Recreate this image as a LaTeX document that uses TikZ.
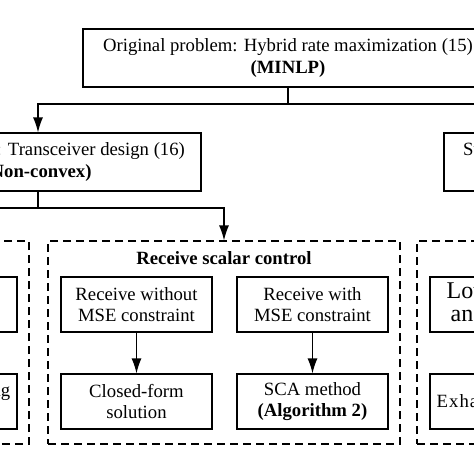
\documentclass[tikz,border=0pt]{standalone}
\usepackage{fontspec}
\setmainfont{Liberation Serif}
\usetikzlibrary{arrows.meta}
\begin{document}
\begin{tikzpicture}[x=1pt,y=-1pt,
  txt/.style={font=\fontsize{18.7}{21.5}\selectfont},
  box/.style={draw,line width=1.2pt,align=center,inner sep=0pt,txt},
  bigbox/.style={box,minimum height=58pt},
  smallbox/.style={box,minimum width=151pt,minimum height=55pt},
  group/.style={draw,line width=1.2pt,dash pattern=on 8pt off 5pt,minimum width=352pt,minimum height=203pt,inner sep=0pt},
  conn/.style={line width=1.2pt},
  arr/.style={conn,-{Latex[length=15pt,width=10pt]}}]
\useasboundingbox (0,0) rectangle (474,474);
\clip (0,0) rectangle (474,474);
\fill[white] (0,0) rectangle (474,474);
% top level
\node[bigbox,minimum width=410pt] (top) at (288,58) {Original problem: Hybrid rate maximization (15)\\\textbf{(MINLP)}};
\node[bigbox,minimum width=326pt] (sub1) at (38,162) {Subproblem 1: Transceiver design (16)\\\textbf{(Non-convex)}};
\node[bigbox,minimum width=326pt] (sub2) at (607,162) {\makebox[288pt][l]{Subproblem 2: Mode selection (17)}\\\textbf{(Integer)}};
\coordinate (j1) at (288,104);
\draw[conn] (top.south) -- (j1);
\draw[arr] (j1) -| (sub1.north);
\draw[arr] (j1) -| (sub2.north);
% groups
\node[group] (gl) at (-147,342.5) {};
\node[group] (gm) at (224,342.5) {};
\node[group] (gr) at (593,342.5) {};
\coordinate (j2) at (38,208);
\draw[conn] (sub1.south) -- (j2);
\draw[arr] (j2) -| (gl.north);
\draw[arr] (j2) -| (gm.north);
\coordinate (j3) at (607,208);
\draw[conn] (sub2.south) -- (j3);
\draw[arr] (j3) -| (gr.north);
% left group
\node[smallbox] (l1) at (-58.5,304.5) {};
\node[smallbox] (l2) at (-58.5,401.5) {};
\node[txt,anchor=base east,inner sep=0pt] (l2t) at (10.5,396.5) {Beamforming};
\draw[arr] (l1) -- (l2);
% middle group
\node[txt,font=\fontsize{18.7}{21.5}\selectfont\bfseries] (gmt) at (224,258) {Receive scalar control};
\node[smallbox] (rw) at (136.5,304.5) {Receive without\\MSE constraint};
\node[smallbox] (cf) at (136.5,401.5) {Closed-form\\solution};
\node[smallbox] (rm) at (312.5,304.5) {Receive with\\MSE constraint};
\node[smallbox] (sca) at (312.5,401.5) {SCA method\\\textbf{(Algorithm 2)}};
\draw[arr] (rw) -- (cf);
\draw[arr] (rm) -- (sca);
% right group
\node[smallbox,font=\fontsize{24}{23}\selectfont] (r1) at (505.5,304.5) {\makebox[117.6pt][l]{Lower bound}\\\makebox[109.6pt][l]{and pruning}};
\node[smallbox] (r2) at (505.5,401.5) {\makebox[138pt][l]{\addfontfeature{LetterSpace=6}Exhaustive search}};
\draw[arr] (r1) -- (r2);
\end{tikzpicture}
\end{document}
